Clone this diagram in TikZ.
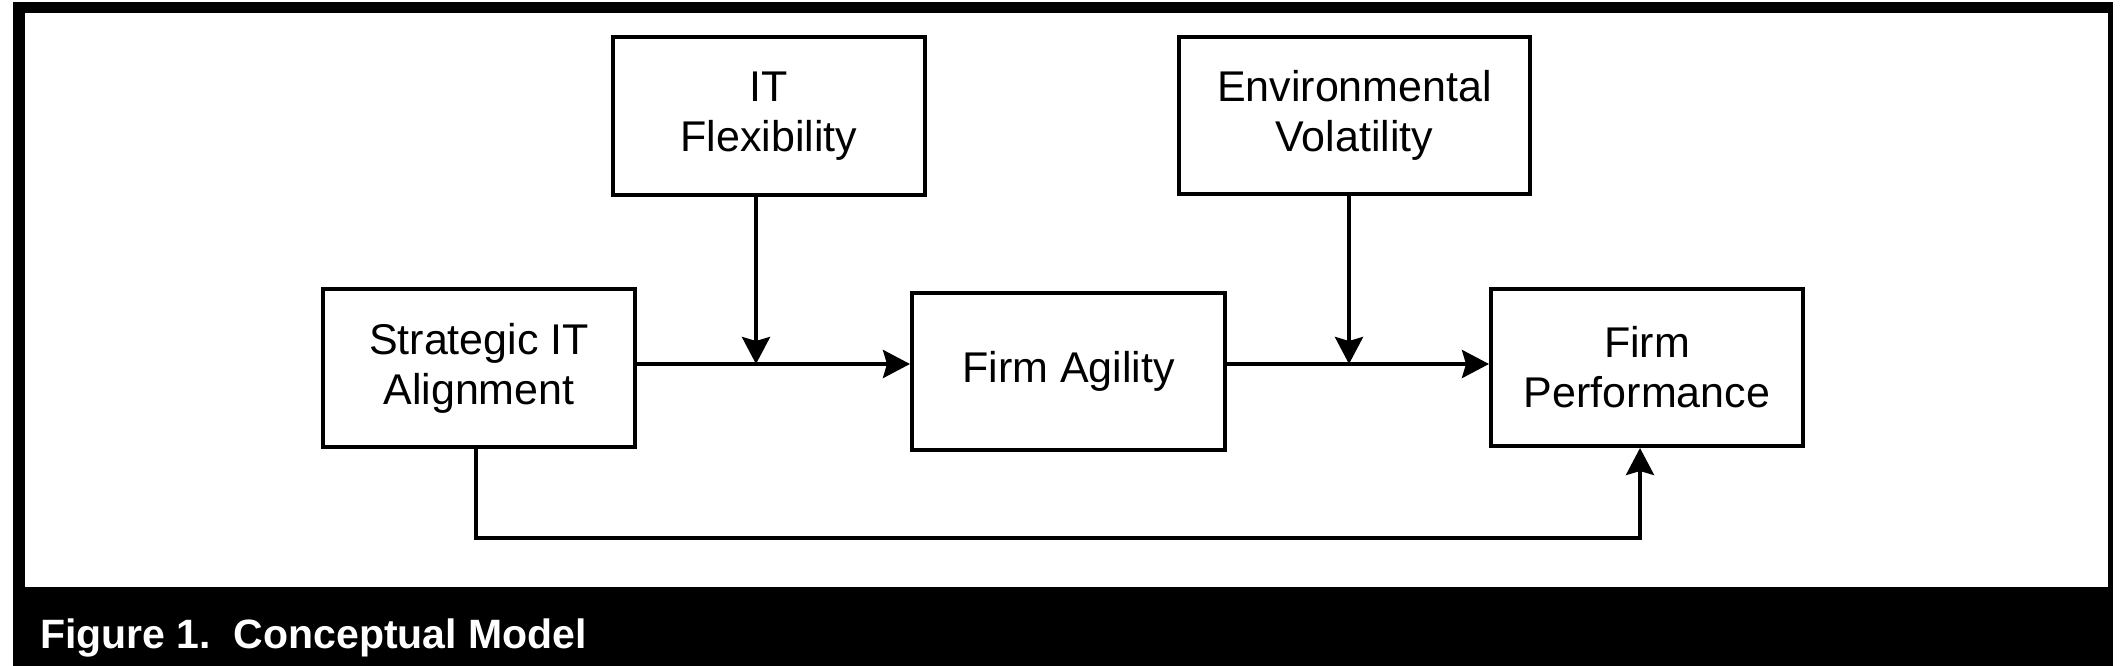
\documentclass[tikz,border=0pt]{standalone}
\usepackage{fontspec}
\setmainfont{Liberation Sans}
\usetikzlibrary{arrows.meta}
\begin{document}
\begin{tikzpicture}[x=1pt,y=-1pt,
  box/.style={draw=black,line width=4pt,fill=white,rectangle,inner sep=0pt,
    align=center,font=\fontsize{43}{50}\selectfont},
  conn/.style={line width=4pt,draw=black},
  arr/.style={conn,-{Stealth[length=27pt,width=28pt,inset=4pt]}},
  caption/.style={text=white,font=\fontsize{41}{48}\selectfont\bfseries,inner sep=0pt,anchor=base west}
]
\useasboundingbox (0,0) rectangle (2120,666);
\fill[white] (0,0) rectangle (2120,666);
\fill[black] (13,2) rectangle (2113,666);
\fill[white] (25,13) rectangle (2108,587);

\node[box,minimum width=312pt,minimum height=158pt] (itf) at (769,116) {IT\\Flexibility};
\node[box,minimum width=351pt,minimum height=157pt] (env) at (1354.5,115.5) {Environmental\\Volatility};
\node[box,minimum width=312pt,minimum height=158pt] (sita) at (479,368) {Strategic IT\\Alignment};
\node[box,minimum width=313pt,minimum height=157pt] (fa) at (1068.5,371.5) {Firm Agility};
\node[box,minimum width=312pt,minimum height=157pt] (fp) at (1647,367.5) {Firm\\Performance};

\coordinate (m1) at (756,364);
\coordinate (m2) at (1349,364);
\coordinate (b1) at (476,538);
\coordinate (b2) at (1640,538);

\draw[arr] (sita.east |- m1) -- (fa.west |- m1);
\draw[arr] (fa.east |- m2) -- (fp.west |- m2);
\draw[arr] (itf.south -| m1) -- (m1);
\draw[arr] (env.south -| m2) -- (m2);
\draw[arr] (sita.south -| b1) -- (b1) -- (b2) -- (fp.south -| b2);

\node[caption] (cap) at (40,648) {Figure 1.\ \ Conceptual Model};
\end{tikzpicture}
\end{document}
